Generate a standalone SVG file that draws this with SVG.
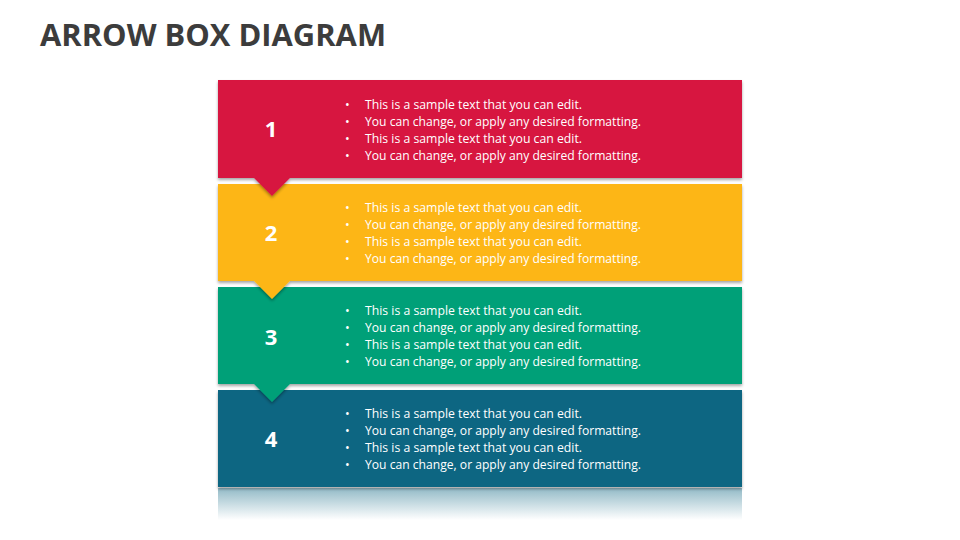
<svg xmlns="http://www.w3.org/2000/svg" width="960" height="540" viewBox="0 0 960 540">
<defs>
<filter id="sh" x="-5%" y="-10%" width="110%" height="130%">
<feDropShadow dx="0" dy="2" stdDeviation="1.5" flood-color="#000" flood-opacity="0.35"/>
</filter>
<linearGradient id="refl" x1="0" y1="0" x2="0" y2="1">
<stop offset="0" stop-color="#0E6682" stop-opacity="0.45"/>
<stop offset="1" stop-color="#0E6682" stop-opacity="0"/>
</linearGradient>
<style>
.num{font-family:"Open Sans","Liberation Sans",sans-serif;font-weight:bold;font-size:22px;fill:#fff;text-anchor:middle}
.t{font-family:"Open Sans","Liberation Sans",sans-serif;font-size:12.5px;fill:#fff}
.title{font-family:"Open Sans","Liberation Sans",sans-serif;font-weight:bold;font-size:31px;fill:#3C3C3C}
</style>
</defs>
<rect width="960" height="540" fill="#fff"/>
<text class="title" x="40" y="46" textLength="346" lengthAdjust="spacingAndGlyphs">ARROW BOX DIAGRAM</text>

<rect x="218" y="488" width="524" height="32" fill="url(#refl)"/>

<g id="box4">
<path d="M218 390H742V487H218Z" fill="#0E6682" filter="url(#sh)"/>
<text class="num" x="271" y="447">4</text>
<g class="t">
<text x="345" y="418">•<tspan x="365" textLength="217" lengthAdjust="spacingAndGlyphs">This is a sample text that you can edit.</tspan></text>
<text x="345" y="435">•<tspan x="365" textLength="276" lengthAdjust="spacingAndGlyphs">You can change, or apply any desired formatting.</tspan></text>
<text x="345" y="452">•<tspan x="365" textLength="217" lengthAdjust="spacingAndGlyphs">This is a sample text that you can edit.</tspan></text>
<text x="345" y="469">•<tspan x="365" textLength="276" lengthAdjust="spacingAndGlyphs">You can change, or apply any desired formatting.</tspan></text>
</g>
</g>

<g id="box3">
<path d="M218 287H742V384H290L272 402L254 384H218Z" fill="#05A078" filter="url(#sh)"/>
<text class="num" x="271" y="345">3</text>
<g class="t">
<text x="345" y="315">•<tspan x="365" textLength="217" lengthAdjust="spacingAndGlyphs">This is a sample text that you can edit.</tspan></text>
<text x="345" y="332">•<tspan x="365" textLength="276" lengthAdjust="spacingAndGlyphs">You can change, or apply any desired formatting.</tspan></text>
<text x="345" y="349">•<tspan x="365" textLength="217" lengthAdjust="spacingAndGlyphs">This is a sample text that you can edit.</tspan></text>
<text x="345" y="366">•<tspan x="365" textLength="276" lengthAdjust="spacingAndGlyphs">You can change, or apply any desired formatting.</tspan></text>
</g>
</g>

<g id="box2">
<path d="M218 184H742V281H290L272 299L254 281H218Z" fill="#FDB612" filter="url(#sh)"/>
<text class="num" x="271" y="241">2</text>
<g class="t">
<text x="345" y="212">•<tspan x="365" textLength="217" lengthAdjust="spacingAndGlyphs">This is a sample text that you can edit.</tspan></text>
<text x="345" y="229">•<tspan x="365" textLength="276" lengthAdjust="spacingAndGlyphs">You can change, or apply any desired formatting.</tspan></text>
<text x="345" y="246">•<tspan x="365" textLength="217" lengthAdjust="spacingAndGlyphs">This is a sample text that you can edit.</tspan></text>
<text x="345" y="263">•<tspan x="365" textLength="276" lengthAdjust="spacingAndGlyphs">You can change, or apply any desired formatting.</tspan></text>
</g>
</g>

<g id="box1">
<path d="M218 80H742V178H290L272 196L254 178H218Z" fill="#D71541" filter="url(#sh)"/>
<text class="num" x="271" y="137">1</text>
<g class="t">
<text x="345" y="109">•<tspan x="365" textLength="217" lengthAdjust="spacingAndGlyphs">This is a sample text that you can edit.</tspan></text>
<text x="345" y="126">•<tspan x="365" textLength="276" lengthAdjust="spacingAndGlyphs">You can change, or apply any desired formatting.</tspan></text>
<text x="345" y="143">•<tspan x="365" textLength="217" lengthAdjust="spacingAndGlyphs">This is a sample text that you can edit.</tspan></text>
<text x="345" y="160">•<tspan x="365" textLength="276" lengthAdjust="spacingAndGlyphs">You can change, or apply any desired formatting.</tspan></text>
</g>
</g>
<g id="connectors"/>
</svg>
